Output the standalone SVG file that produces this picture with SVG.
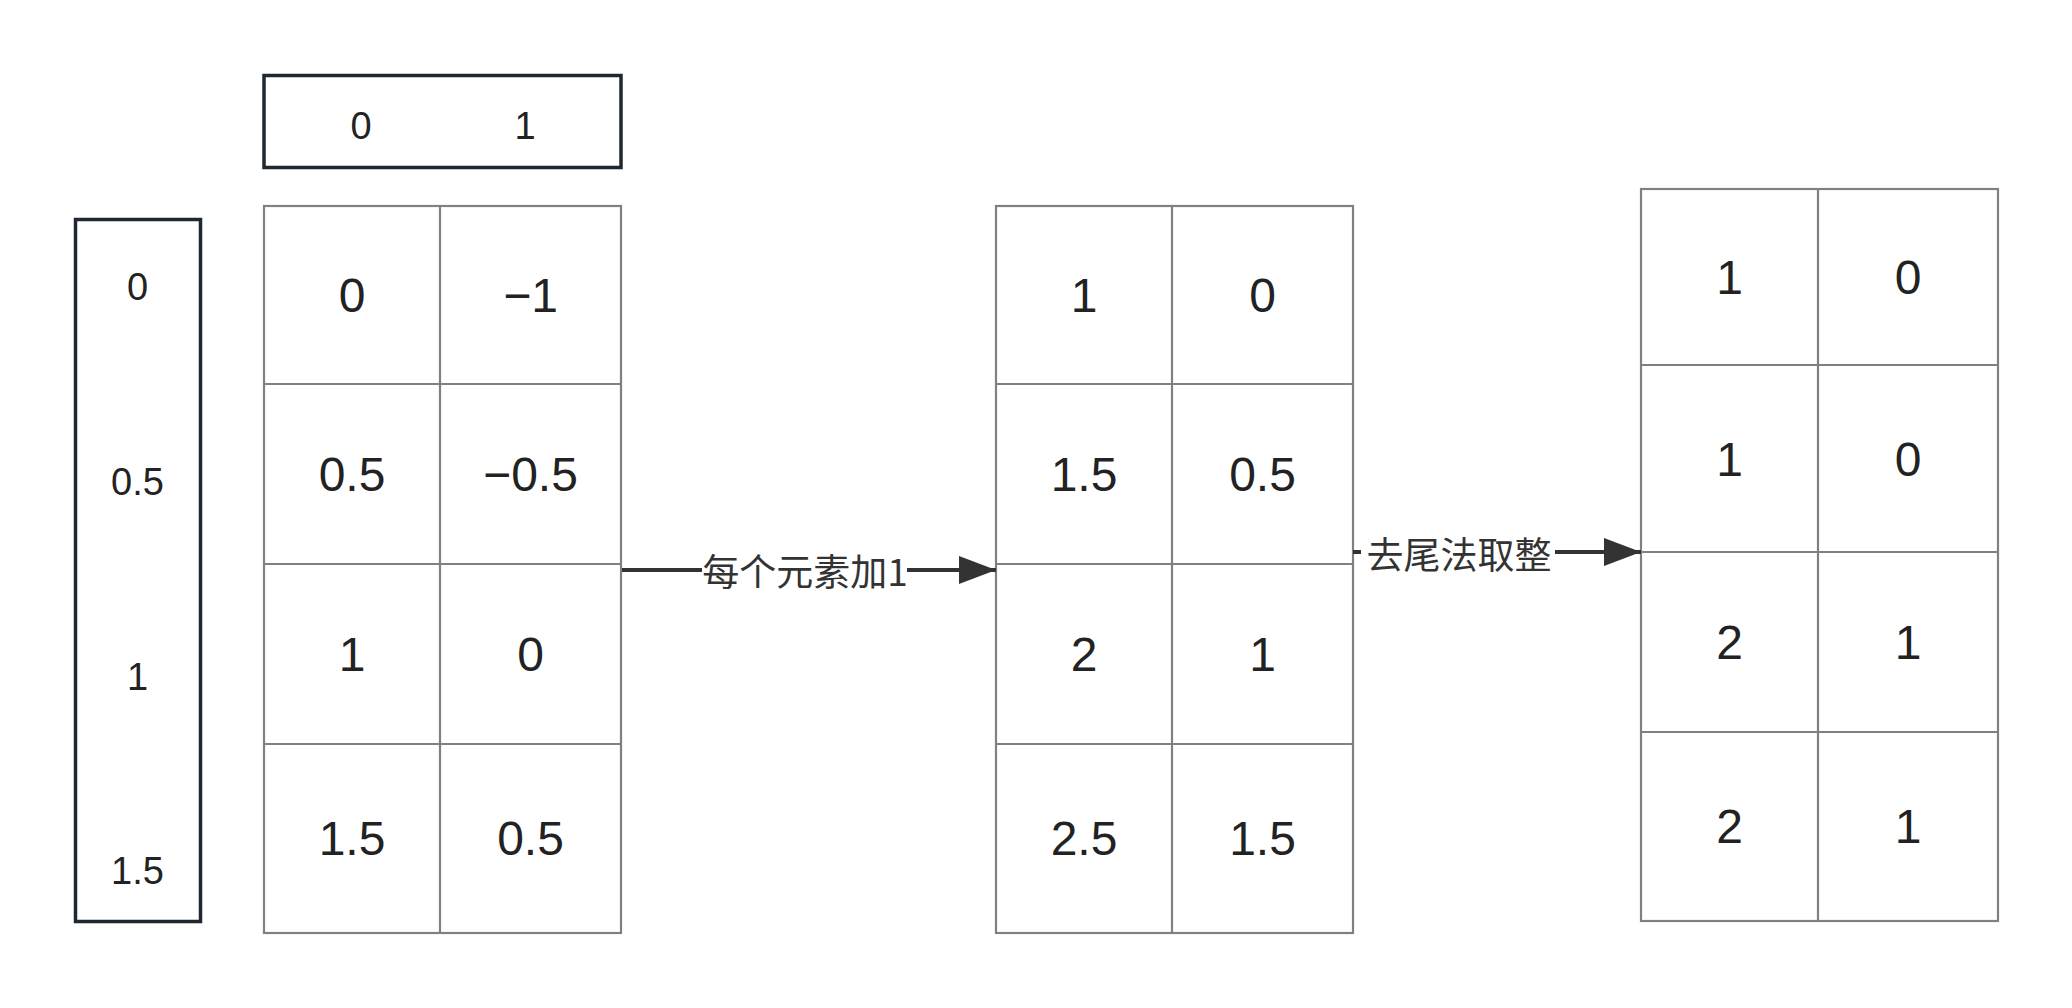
<svg xmlns="http://www.w3.org/2000/svg" width="2072" height="1008" viewBox="0 0 2072 1008">
<style>
.bg{fill:#ffffff}
.box{fill:none;stroke:#1f2830;stroke-width:3.5}
.grid{fill:none;stroke:#808080;stroke-width:2.2}
.cell{font-family:"Liberation Sans","Noto Sans CJK SC",sans-serif;font-size:48px;fill:#222222;text-anchor:middle}
.lab{font-family:"Liberation Sans","Noto Sans CJK SC",sans-serif;font-size:38px;fill:#222222;text-anchor:middle}
.edge{fill:none;stroke:#333333;stroke-width:4}
.elab{font-family:"Noto Sans CJK SC","Liberation Sans",sans-serif;font-size:37px;fill:#333333;text-anchor:middle;dominant-baseline:central}
</style>
<defs>
<marker id="arr" markerUnits="userSpaceOnUse" markerWidth="42" markerHeight="34" refX="37" refY="14" orient="auto">
<path d="M0,0 L37,14 L0,28 Z" fill="#333333"/>
</marker>
</defs>
<rect class="bg" x="0" y="0" width="2072" height="1008"/>

<g id="col-header">
<rect class="box" x="264" y="75.5" width="357" height="92"/>
<text class="lab" x="361" y="139">0</text>
<text class="lab" x="525" y="139">1</text>
</g>

<g id="row-header">
<rect class="box" x="75.5" y="219.5" width="125" height="702"/>
<text class="lab" x="137.5" y="300">0</text>
<text class="lab" x="137.5" y="495">0.5</text>
<text class="lab" x="137.5" y="690">1</text>
<text class="lab" x="137.5" y="884">1.5</text>
</g>

<g id="grid1">
<rect class="grid" x="264" y="206" width="357" height="727"/>
<path class="grid" d="M440,206 V933 M264,384 H621 M264,564 H621 M264,744 H621"/>
<text class="cell" x="352" y="312">0</text>
<text class="cell" x="530.5" y="312">−1</text>
<text class="cell" x="352" y="491">0.5</text>
<text class="cell" x="530.5" y="491">−0.5</text>
<text class="cell" x="352" y="671">1</text>
<text class="cell" x="530.5" y="671">0</text>
<text class="cell" x="352" y="855">1.5</text>
<text class="cell" x="530.5" y="855">0.5</text>
</g>

<g id="grid2">
<rect class="grid" x="996" y="206" width="357" height="727"/>
<path class="grid" d="M1172,206 V933 M996,384 H1353 M996,564 H1353 M996,744 H1353"/>
<text class="cell" x="1084" y="312">1</text>
<text class="cell" x="1262.5" y="312">0</text>
<text class="cell" x="1084" y="491">1.5</text>
<text class="cell" x="1262.5" y="491">0.5</text>
<text class="cell" x="1084" y="671">2</text>
<text class="cell" x="1262.5" y="671">1</text>
<text class="cell" x="1084" y="855">2.5</text>
<text class="cell" x="1262.5" y="855">1.5</text>
</g>

<g id="grid3">
<rect class="grid" x="1641" y="189" width="357" height="732"/>
<path class="grid" d="M1818,189 V921 M1641,365 H1998 M1641,552 H1998 M1641,732 H1998"/>
<text class="cell" x="1729.5" y="294">1</text>
<text class="cell" x="1908" y="294">0</text>
<text class="cell" x="1729.5" y="476">1</text>
<text class="cell" x="1908" y="476">0</text>
<text class="cell" x="1729.5" y="659">2</text>
<text class="cell" x="1908" y="659">1</text>
<text class="cell" x="1729.5" y="843">2</text>
<text class="cell" x="1908" y="843">1</text>
</g>

<g id="connectors">
<path class="edge" d="M622,570 H996" marker-end="url(#arr)"/>
<rect class="bg" x="702" y="548" width="205" height="44"/>
<text class="elab" x="805" y="570">每个元素加1</text>
<path class="edge" d="M1353,552 H1641" marker-end="url(#arr)"/>
<rect class="bg" x="1361" y="530" width="194" height="44"/>
<text class="elab" x="1459" y="553">去尾法取整</text>
</g>
</svg>
